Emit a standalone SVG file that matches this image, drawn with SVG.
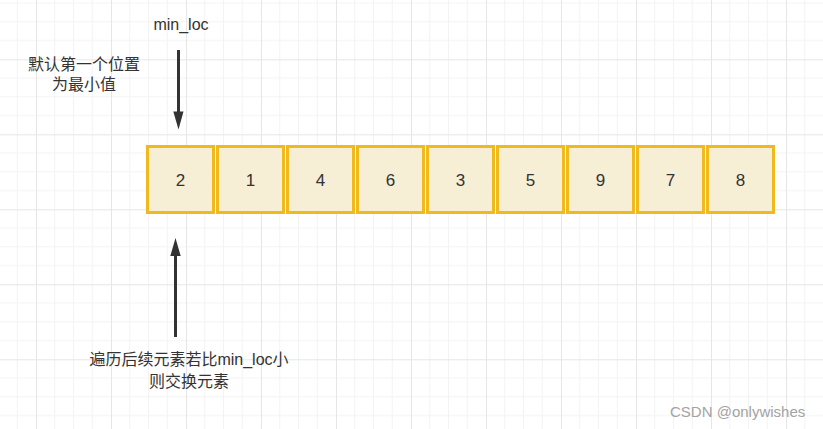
<svg xmlns="http://www.w3.org/2000/svg" width="823" height="429" viewBox="0 0 823 429">
<style>
.box{fill:#f6eed5;stroke:#f0ba1f;stroke-width:3}
.num{font-family:"Liberation Sans","Noto Sans CJK SC",sans-serif;font-size:17px;fill:#333;text-anchor:middle}
.lbl{font-family:"Liberation Sans","Noto Sans CJK SC",sans-serif;font-size:16px;fill:#333;text-anchor:middle}
.conn{stroke:#333;stroke-width:3;fill:none}
.head{fill:#333}
.wm{font-family:"Liberation Sans",sans-serif;font-size:15px;fill:#a3a3a3}
</style>
<defs>
<pattern id="grid" patternUnits="userSpaceOnUse" x="36" y="-15.7" width="75" height="75">
<path d="M18.75 0V75M37.5 0V75M56.25 0V75M0 18.75H75M0 37.5H75M0 56.25H75" stroke="#f3f3f3" stroke-width="1" fill="none"/>
<path d="M0.5 0V75M0 0.5H75" stroke="#e6e6e6" stroke-width="1" fill="none"/>
</pattern>
</defs>
<rect width="823" height="429" fill="#ffffff"/>
<rect width="823" height="429" fill="url(#grid)"/>
<g id="n0"><rect class="box" x="147.5" y="146.5" width="66" height="66"/><text class="num" x="180.5" y="186">2</text></g>
<g id="n1"><rect class="box" x="217.5" y="146.5" width="66" height="66"/><text class="num" x="250.5" y="186">1</text></g>
<g id="n2"><rect class="box" x="287.5" y="146.5" width="66" height="66"/><text class="num" x="320.5" y="186">4</text></g>
<g id="n3"><rect class="box" x="357.5" y="146.5" width="66" height="66"/><text class="num" x="390.5" y="186">6</text></g>
<g id="n4"><rect class="box" x="427.5" y="146.5" width="66" height="66"/><text class="num" x="460.5" y="186">3</text></g>
<g id="n5"><rect class="box" x="497.5" y="146.5" width="66" height="66"/><text class="num" x="530.5" y="186">5</text></g>
<g id="n6"><rect class="box" x="567.5" y="146.5" width="66" height="66"/><text class="num" x="600.5" y="186">9</text></g>
<g id="n7"><rect class="box" x="637.5" y="146.5" width="66" height="66"/><text class="num" x="670.5" y="186">7</text></g>
<g id="n8"><rect class="box" x="707.5" y="146.5" width="66" height="66"/><text class="num" x="740.5" y="186">8</text></g>
<g id="label-minloc"><text class="lbl" x="181" y="30">min_loc</text></g>
<g id="label-default"><text class="lbl" x="84" y="70">默认第一个位置</text><text class="lbl" x="84" y="90">为最小值</text></g>
<g id="label-traverse"><text class="lbl" x="189" y="365">遍历后续元素若比min_loc小</text><text class="lbl" x="189" y="387">则交换元素</text></g>
<g id="connectors">
<path class="conn" d="M178.5 50V113"/>
<path class="head" d="M173.3 111.5L183.5 111.5L178.5 129.5Z"/>
<path class="conn" d="M175.5 337V254"/>
<path class="head" d="M170.3 256L180.7 256L175.5 238Z"/>
</g>
<text class="wm" x="670" y="417">CSDN @onlywishes</text>
</svg>
